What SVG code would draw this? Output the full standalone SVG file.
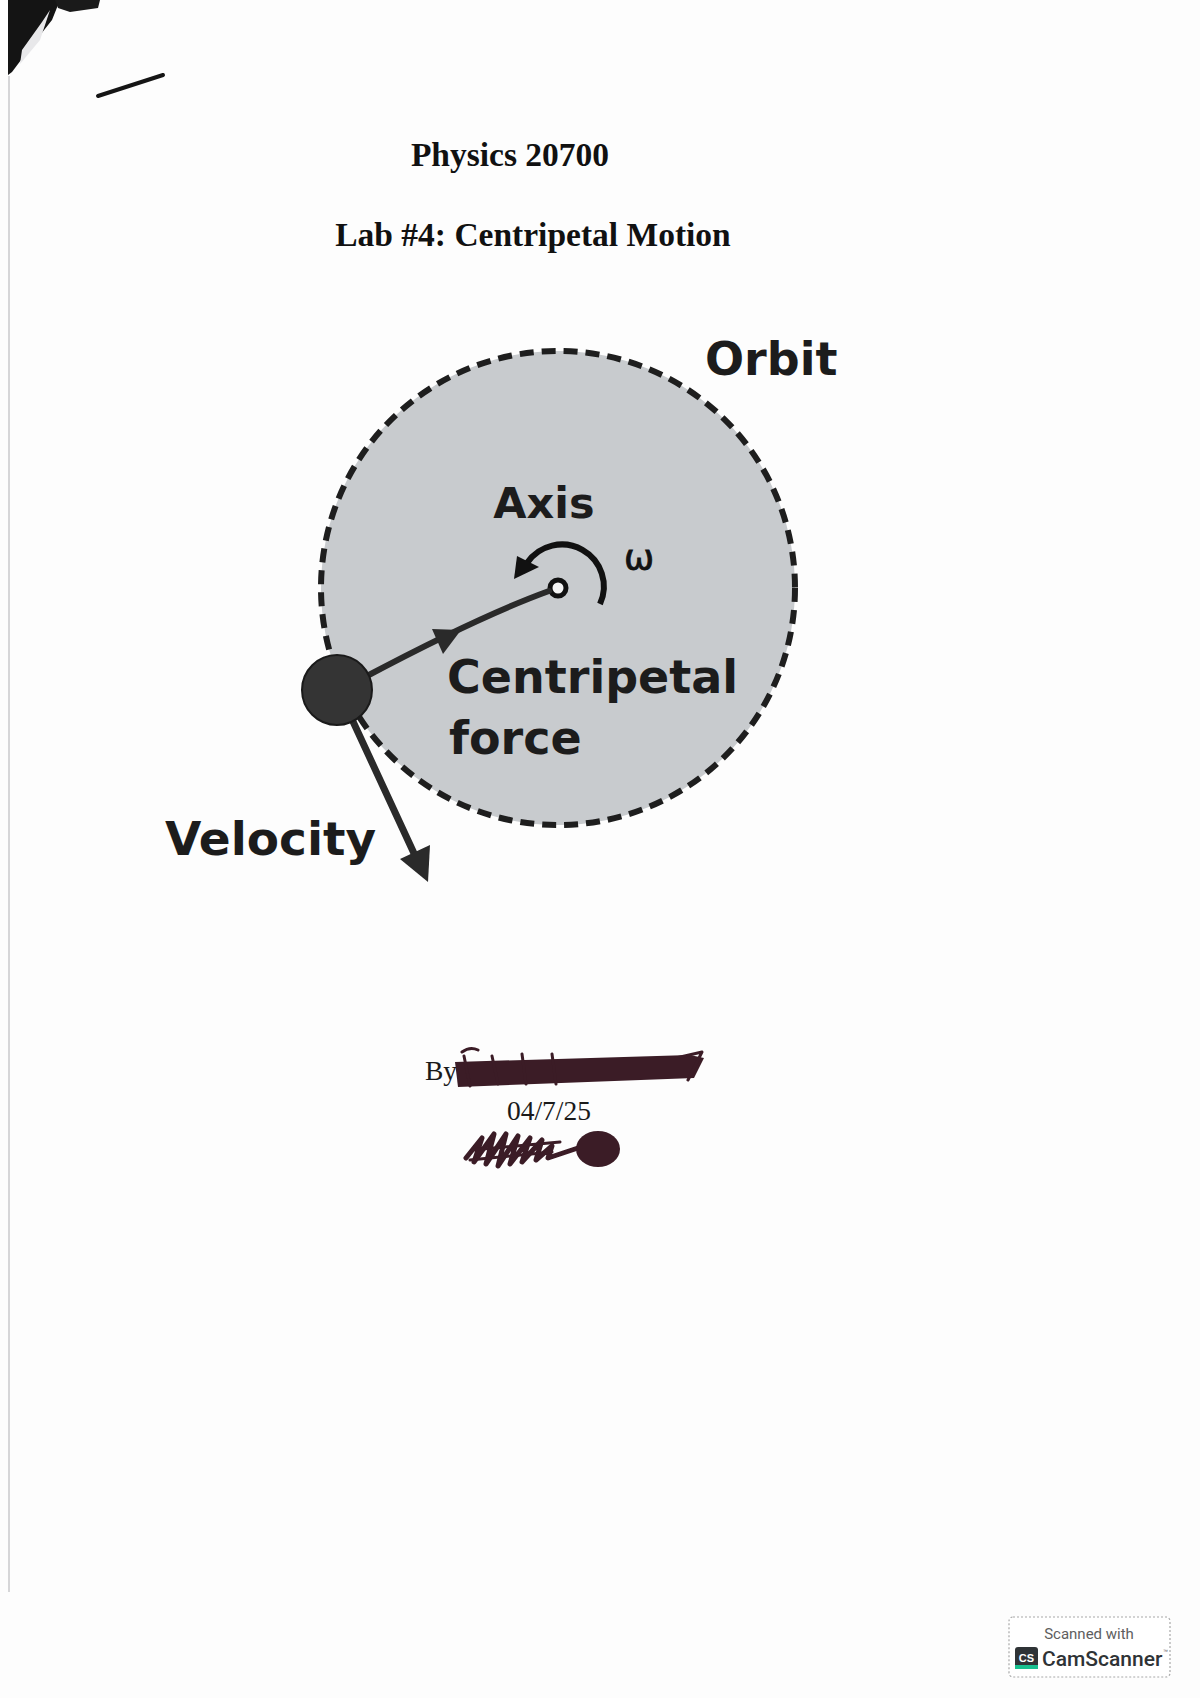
<svg xmlns="http://www.w3.org/2000/svg" width="1200" height="1698" viewBox="0 0 1200 1698">
<style>
.title{font-family:"Liberation Serif","Times New Roman",serif;font-weight:bold;font-size:33.5px;fill:#111}
.serif{font-family:"Liberation Serif","Times New Roman",serif;font-size:27.5px;fill:#1a1a1a}
.lbl{font-family:"DejaVu Sans",Verdana,sans-serif;font-weight:bold;font-size:46px;fill:#1c1c1c}
.omega{font-family:"DejaVu Sans",sans-serif;font-size:36px;fill:#111;stroke:#111;stroke-width:0.8}
.arrow{stroke:#2a2a2a;fill:none;stroke-linecap:round}
.head{fill:#2a2a2a}
.scrib{stroke:#3b1c26;fill:none;stroke-linecap:round;stroke-linejoin:round}
</style>
<rect x="0" y="0" width="1200" height="1698" fill="#fdfdfd"/>
<g id="scan-edge">
<polygon points="8,0 60,0 52,20 30,48 12,72 8,75" fill="#141414"/>
<polygon points="22,50 42,22 50,10 40,40 20,64" fill="#e8e8ea"/>
<polygon points="55,0 100,0 98,8 70,12 58,8" fill="#1a1a1a"/>
<line x1="9" y1="76" x2="9" y2="1592" stroke="#d6d6d8" stroke-width="2"/>
<line x1="98" y1="96" x2="163" y2="75" stroke="#151515" stroke-width="4" stroke-linecap="round"/>
</g>
<g id="header">
<text class="title" x="510" y="166" text-anchor="middle">Physics 20700</text>
<text class="title" x="533" y="246" text-anchor="middle">Lab #4: Centripetal Motion</text>
</g>
<g id="orbit">
<circle cx="558" cy="588" r="237" fill="#c8cbce" stroke="#1e1e1e" stroke-width="6" stroke-dasharray="14 8"/>
<text class="lbl" x="705" y="375">Orbit</text>
</g>
<g id="axis">
<text class="lbl" x="544" y="518" text-anchor="middle" style="font-size:43px">Axis</text>
<circle cx="558" cy="588" r="8" fill="#f4f4f4" stroke="#111" stroke-width="5"/>
</g>
<g id="rotation">
<path d="M 600 604 A 42 42 0 0 0 527 563" stroke="#111" stroke-width="6" fill="none"/>
<polygon points="514,579 517,556 539,567" fill="#111"/>
<text class="omega" x="624" y="570">ω</text>
</g>
<g id="connectors">
<path class="arrow" d="M 365 677 Q 480 616 549 591" stroke-width="6"/>
<polygon class="head" points="461,630 443,654 432,629"/>
<line class="arrow" x1="350" y1="715" x2="418" y2="862" stroke-width="7"/>
<polygon class="head" points="428,882 400,859 430,845"/>
</g>
<g id="mass">
<circle cx="337" cy="690" r="35" fill="#343434" stroke="#1a1a1a" stroke-width="2"/>
</g>
<g id="labels">
<text class="lbl" x="447" y="693">Centripetal</text>
<text class="lbl" x="449" y="754">force</text>
<text class="lbl" x="165" y="855" style="font-size:47px">Velocity</text>
</g>
<g id="byline">
<text class="serif" x="425" y="1080">By</text>
<path d="M 455 1062 L 690 1055 L 704 1058 L 694 1078 L 458 1087 Z" fill="#3b1c26"/>
<path class="scrib" stroke-width="3" d="M 464 1056 L 470 1086 M 492 1056 L 498 1084 M 522 1054 L 526 1084 M 552 1054 L 556 1084 M 676 1058 L 702 1052 L 688 1080 M 462 1052 Q 470 1046 478 1050"/>
<text class="serif" x="549" y="1120" text-anchor="middle">04/7/25</text>
<path class="scrib" stroke-width="5" d="M 466 1158 L 482 1138 L 474 1162 L 494 1134 L 486 1164 L 506 1134 L 498 1166 L 518 1136 L 510 1164 L 530 1138 L 522 1162 L 542 1140 L 536 1160 L 552 1146 L 548 1158 L 578 1148"/>
<path class="scrib" stroke-width="3" d="M 472 1150 L 560 1142 M 470 1160 L 552 1152"/>
<ellipse cx="598" cy="1149" rx="22" ry="18" fill="#3b1c26"/>
</g>
<g id="camscanner">
<rect x="1009" y="1617" width="161" height="60" rx="4" fill="#ffffff" stroke="#a8a8a8" stroke-width="1.2" stroke-dasharray="2 2"/>
<text x="1089" y="1639" text-anchor="middle" style="font-family:Roboto,'Liberation Sans',sans-serif;font-size:15px;fill:#5e5e5e">Scanned with</text>
<rect x="1015" y="1647" width="23" height="22" rx="3" fill="#2f3336"/>
<rect x="1015" y="1665" width="23" height="4" fill="#19c08f"/>
<text x="1026.5" y="1662" text-anchor="middle" style="font-family:'Liberation Sans',Arial,sans-serif;font-weight:bold;font-size:11px;fill:#ffffff">CS</text>
<text x="1042" y="1666" style="font-family:Roboto,'Liberation Sans',sans-serif;font-weight:500;font-size:21px;fill:#2f3336">CamScanner</text>
<text x="1163" y="1653" style="font-family:'Liberation Sans',Arial,sans-serif;font-size:5px;fill:#555">™</text>
</g>
</svg>
